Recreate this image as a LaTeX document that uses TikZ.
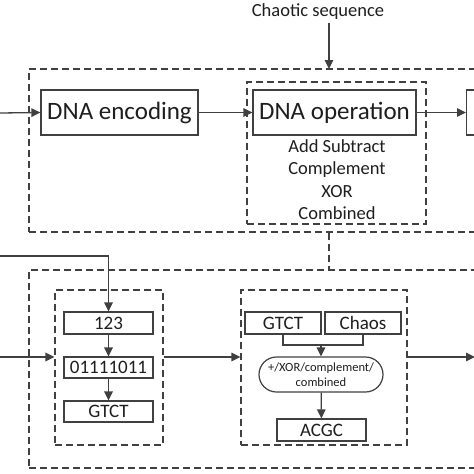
\documentclass[tikz,border=0pt]{standalone}
\usepackage{fontspec}
\setmainfont{Carlito}
\usetikzlibrary{arrows.meta,positioning,shapes.misc}

\definecolor{linegray}{HTML}{404040}
\definecolor{textgray}{HTML}{1E1E1E}

\tikzset{
	blk/.style={draw=linegray, line width=1.2pt, fill=white, inner sep=0pt, text=textgray},
	grp/.style={draw=linegray, line width=1.1pt, dash pattern=on 7pt off 4pt, inner sep=0pt},
	flow/.style={draw=linegray, line width=1.3pt, -{Triangle[length=9pt,width=8.5pt]}},
	link/.style={draw=linegray, line width=1.3pt},
}

\begin{document}
\begin{tikzpicture}[x=1pt, y=-1pt]
	\useasboundingbox (0,0) rectangle (474,474);
	\clip (0,0) rectangle (474,474);
	% upper stage
	\node[grp, minimum width=461pt, minimum height=163pt] (stageA) at (259.5,150.5) {};
	\node[grp, minimum width=179pt, minimum height=142pt] (opgrp) at (336.5,153) {};
	\node[text=textgray, font=\fontsize{18.5}{22}\selectfont] (chaos) at (318,12) {Chaotic sequence};
	\coordinate (chin) at (329,69);
	\draw[flow] (chaos.south -| chin) -- (chin);
	\coordinate (plain) at (0,113);
	\node[blk, minimum width=157pt, minimum height=45pt, font=\fontsize{25}{30}\selectfont] (enc) at (119.5,112.5) {DNA encoding};
	\node[blk, minimum width=163pt, minimum height=45pt, font=\fontsize{25}{30}\selectfont] (op) at (334.5,112.5) {DNA operation};
	\node[blk, minimum width=60pt, minimum height=45pt, anchor=west] (nxt) at (466,112.5) {};
	\coordinate (listtop) at (337,136);
	\node[text=textgray, align=center, anchor=north, font=\fontsize{18.5}{22.5}\selectfont] (oplist) at (listtop) {Add Subtract\\Complement\\XOR\\Combined};
	\draw[flow] (plain) -- (enc.west);
	\draw[flow] (enc) -- (op);
	\draw[flow] (op) -- (nxt);

	% lower stage
	\node[grp, minimum width=461pt, minimum height=198pt] (stageB) at (259.5,369) {};
	\draw[grp] (stageA.south -| chin) -- (stageB.north -| chin);
	\node[grp, minimum width=108pt, minimum height=155pt] (grpL) at (109,367.5) {};
	\node[grp, minimum width=166pt, minimum height=155pt] (grpR) at (324,367.5) {};
	\begin{scope}[font=\fontsize{19}{23}\selectfont]
		\node[blk, minimum width=89pt, minimum height=22pt] (dec) at (108.5,323) {123};
		\node[blk, minimum width=89pt, minimum height=21pt] (bin) at (108.5,367.5) {01111011};
		\node[blk, minimum width=89pt, minimum height=21pt] (base) at (108.5,411.5) {GTCT};
		\node[blk, minimum width=76pt, minimum height=22pt] (seq) at (283,323) {GTCT};
		\node[blk, minimum width=76pt, minimum height=22pt] (chs) at (363,323) {Chaos};
		\node[blk, minimum width=89pt, minimum height=22pt] (res) at (321.5,430) {ACGC};
	\end{scope}
	\node[blk, rounded rectangle, minimum width=124pt, minimum height=35pt, align=center, font=\fontsize{12.5}{15}\selectfont] (calc) at (321,374.5) {+/XOR/complement/\\combined};
	\coordinate (key) at (0,256);
	\draw[flow] (key) -| (dec.north);
	\draw[flow] (dec) -- (bin);
	\draw[flow] (bin) -- (base);
	\coordinate (join) at (321,345);
	\draw[link] (seq.south) |- (join) -| (chs.south);
	\draw[flow] (join) -- (calc.north);
	\draw[flow] (calc) -- (res);
	\coordinate (img) at (0,357);
	\coordinate (out) at (475,357);
	\draw[flow] (img) -- (img -| grpL.west);
	\draw[flow] (img -| grpL.east) -- (img -| grpR.west);
	\draw[flow] (img -| grpR.east) -- (out);
\end{tikzpicture}
\end{document}
